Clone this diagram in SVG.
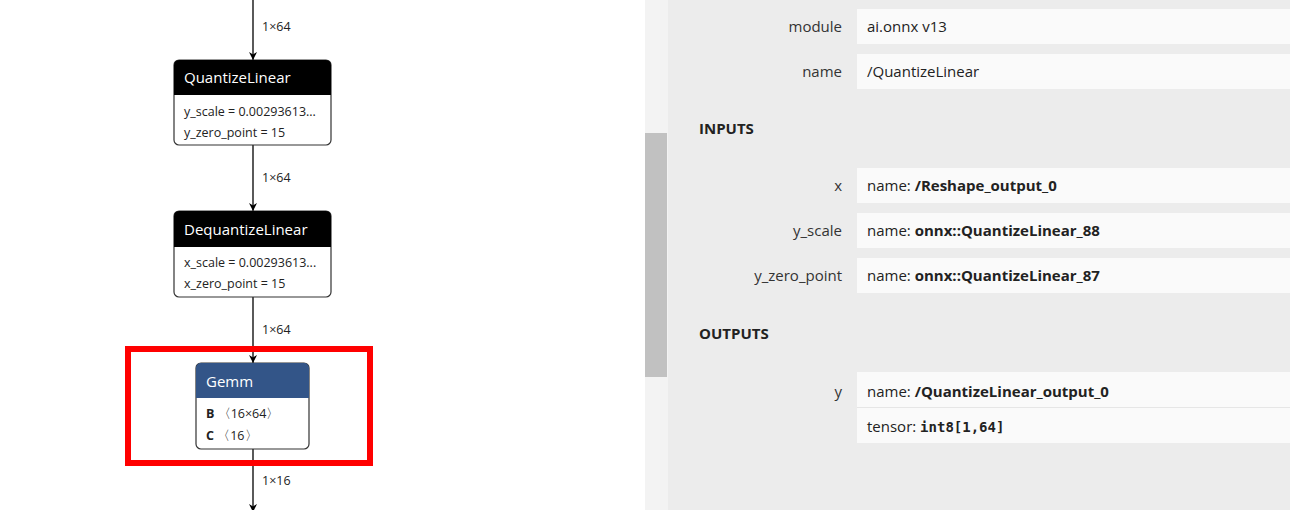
<svg xmlns="http://www.w3.org/2000/svg" width="1290" height="510" viewBox="0 0 1290 510">
<style>
text{font-family:"Segoe UI","Open Sans","Noto Sans","Liberation Sans",sans-serif}
.nb{fill:#fff;stroke:#333;stroke-width:1.2}
.ht{fill:#fff;font-size:15px}
.at{fill:#222;font-size:12.5px}
.el{fill:#222;font-size:12.5px}
.lbl{fill:#333;font-size:15px;text-anchor:end}
.fld{fill:#fafafa}
.fv{fill:#222;font-size:15px}
.sec{fill:#222;font-size:15px;font-weight:bold}
.edge{stroke:#000;stroke-width:1.3;fill:none;marker-end:url(#ah)}
</style>
<defs>
<marker id="ah" viewBox="0 0 10 10" refX="10" refY="5" markerWidth="8" markerHeight="8" orient="auto" markerUnits="userSpaceOnUse"><path d="M0,0 L10,5 L0,10 L3,5 z" fill="#000"/></marker>
</defs>
<rect width="1290" height="510" fill="#fff"/>
<rect x="645" y="0" width="645" height="510" fill="#ececec"/>
<rect x="645" y="0" width="23" height="510" fill="#f3f3f3"/>
<rect x="645" y="133" width="22" height="244" fill="#c1c1c1"/>
<g id="connectors">
<line class="edge" x1="253" y1="0" x2="253" y2="60"/>
<line class="edge" x1="253" y1="145" x2="253" y2="211"/>
<line class="edge" x1="253" y1="297" x2="253" y2="363"/>
<line class="edge" x1="253" y1="449" x2="253" y2="512"/>
<text class="el" x="262" y="31">1×64</text>
<text class="el" x="262" y="182">1×64</text>
<text class="el" x="262" y="334">1×64</text>
<text class="el" x="262" y="485">1×16</text>
</g>
<g id="node-quantize">
<rect class="nb" x="174" y="60" width="157" height="85" rx="5"/>
<path d="M179,60 H326 A5,5 0 0 1 331,65 V95 H174 V65 A5,5 0 0 1 179,60 Z" fill="#000"/>
<text class="ht" x="184" y="83">QuantizeLinear</text>
<text class="at" x="184" y="116">y_scale = 0.00293613...</text>
<text class="at" x="184" y="137">y_zero_point = 15</text>
</g>
<g id="node-dequantize">
<rect class="nb" x="174" y="211" width="157" height="86" rx="5"/>
<path d="M179,211 H326 A5,5 0 0 1 331,216 V247 H174 V216 A5,5 0 0 1 179,211 Z" fill="#000"/>
<text class="ht" x="184" y="235">DequantizeLinear</text>
<text class="at" x="184" y="267">x_scale = 0.00293613...</text>
<text class="at" x="184" y="288">x_zero_point = 15</text>
</g>
<g id="node-gemm">
<rect class="nb" x="196" y="363" width="113" height="86" rx="5"/>
<path d="M201,363 H304 A5,5 0 0 1 309,368 V398 H196 V368 A5,5 0 0 1 201,363 Z" fill="#335588"/>
<text class="ht" x="206" y="387">Gemm</text>
<text class="at" x="206" y="418"><tspan font-weight="bold">B</tspan> 〈16×64〉</text>
<text class="at" x="206" y="440"><tspan font-weight="bold">C</tspan> 〈16〉</text>
</g>
<rect x="128" y="349" width="242" height="114" fill="none" stroke="#f00" stroke-width="6"/>
<g id="properties">
<text class="lbl" x="842" y="32">module</text>
<rect class="fld" x="857" y="9" width="433" height="35"/>
<text class="fv" x="867" y="32">ai.onnx v13</text>
<text class="lbl" x="842" y="77">name</text>
<rect class="fld" x="857" y="54" width="433" height="35"/>
<text class="fv" x="867" y="77">/QuantizeLinear</text>
<text class="sec" x="699" y="134">INPUTS</text>
<text class="lbl" x="842" y="191">x</text>
<rect class="fld" x="857" y="168" width="433" height="35"/>
<text class="fv" x="867" y="191">name: <tspan font-weight="bold">/Reshape_output_0</tspan></text>
<text class="lbl" x="842" y="236">y_scale</text>
<rect class="fld" x="857" y="213" width="433" height="35"/>
<text class="fv" x="867" y="236">name: <tspan font-weight="bold">onnx::QuantizeLinear_88</tspan></text>
<text class="lbl" x="842" y="281">y_zero_point</text>
<rect class="fld" x="857" y="258" width="433" height="35"/>
<text class="fv" x="867" y="281">name: <tspan font-weight="bold">onnx::QuantizeLinear_87</tspan></text>
<text class="sec" x="699" y="339">OUTPUTS</text>
<text class="lbl" x="842" y="397">y</text>
<rect class="fld" x="857" y="372" width="433" height="71"/>
<line x1="857" y1="407.5" x2="1290" y2="407.5" stroke="#e6e6e6"/>
<text class="fv" x="867" y="397">name: <tspan font-weight="bold">/QuantizeLinear_output_0</tspan></text>
<text class="fv" x="867" y="432">tensor: <tspan font-weight="bold" font-family="'DejaVu Sans Mono','Liberation Mono',monospace" font-size="14">int8[1,64]</tspan></text>
</g>
</svg>
